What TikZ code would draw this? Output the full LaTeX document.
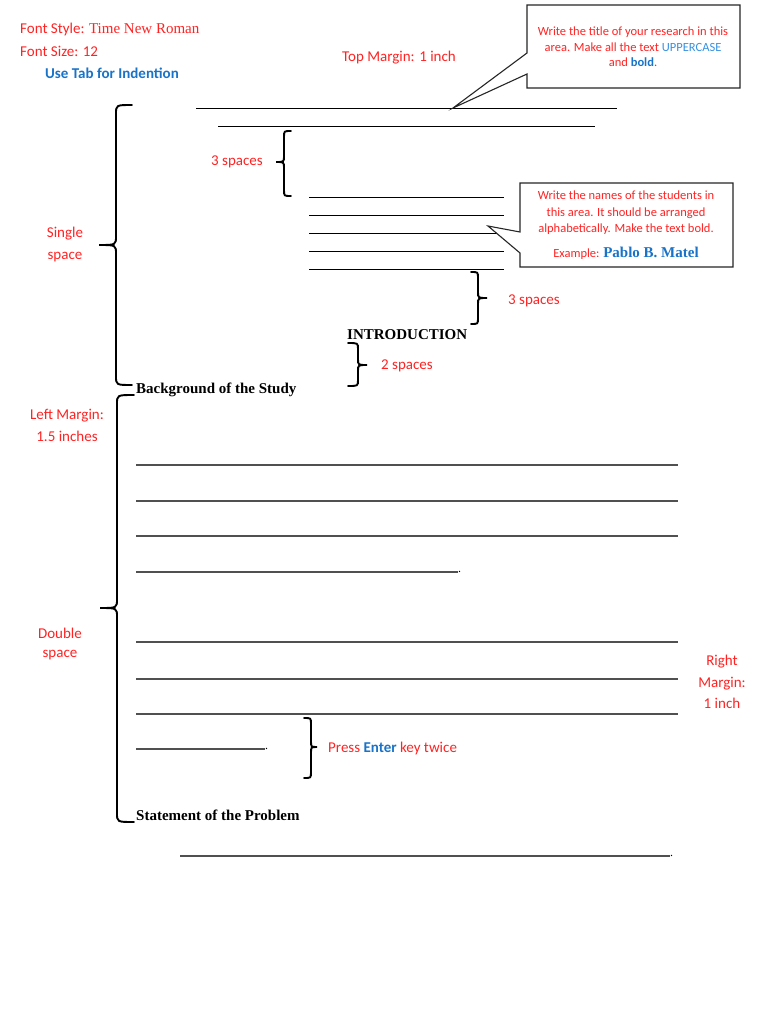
\documentclass[tikz,border=0pt]{standalone}
\usepackage{fontspec}
\setmainfont{Liberation Serif}
\newfontfamily\calfont{Carlito}
\definecolor{tred}{RGB}{255,35,35}
\definecolor{tblue}{RGB}{25,115,200}
\definecolor{lblue}{RGB}{55,145,225}
\definecolor{lgrey}{RGB}{80,80,80}
\tikzset{
  note/.style={font=\calfont\fontsize{15}{17}\selectfont, text=tred, inner sep=0pt},
  boxtext/.style={font=\calfont\fontsize{12.5}{15.5}\selectfont, text=tred, inner sep=0pt, align=center},
  head/.style={font=\bfseries\fontsize{15}{17}\selectfont, inner sep=0pt},
  callout/.style={draw=black!85, line width=1.1pt, fill=white, line join=miter},
  titlerule/.style={line width=0.9pt, black},
  bodyrule/.style={line width=1.3pt, lgrey},
  bracep/.style={line width=1.9pt, black, line cap=round}
}
% opening brace: x, top, mid, bottom, hook x, tip x, radius
\newcommand\myopenbrace[7]{%
  \draw[bracep] (#5,#2) .. controls (#1,#2) .. (#1,{#2+#7}) -- (#1,{#3-#7})
    .. controls (#1,#3) .. (#6,#3) .. controls (#1,#3) .. (#1,{#3+#7})
    -- (#1,{#4-#7}) .. controls (#1,#4) .. (#5,#4);}
\begin{document}
\begin{tikzpicture}[x=1pt,y=-1pt]
\useasboundingbox (0,0) rectangle (768,1024);
\fill[white] (0,0) rectangle (768,1024);

% top-left notes
\node[note, anchor=west] (fs) at (20,30) {Font Style: {\rmfamily Time New Roman}};
\node[note, anchor=west] (fz) at (20,51) {Font Size: 12};
\node[note, anchor=west, text=tblue, font=\calfont\bfseries\fontsize{15}{17}\selectfont] (tab) at (45,73) {Use Tab for Indention};
\node[note] (tm) at (399,58) {Top Margin: 1 inch};

% title lines
\coordinate (t1a) at (196,108); \coordinate (t1b) at (617,108);
\coordinate (t2a) at (218,126); \coordinate (t2b) at (595,126);
\draw[titlerule] (t1a) -- (t1b);
\draw[titlerule] (t2a) -- (t2b);

% callout 1
\coordinate (p1) at (453,108);
\draw[callout] (527,5) -- (740,5) -- (740,88) -- (527,88) -- (527,74) -- (p1) -- (527,53) -- cycle;
\node[boxtext] (c1) at (633,47) {Write the title of your research in this\\
area. Make all the text {\color{lblue}UPPERCASE}\\
and {\color{tblue}\bfseries bold}.};

% 3 spaces brace (small, left)
\myopenbrace{284}{131}{162}{196}{291}{276}{6}
\node[note, anchor=east] (s3a) at (263,162) {3 spaces};

% student name lines
\foreach \yy/\nm in {197/n1,215/n2,233/n3,251/n4,269/n5}{
  \draw[titlerule] (309,\yy) coordinate (\nm a) -- (504,\yy) coordinate (\nm b);
}

% callout 2
\coordinate (p2) at (488,226);
\draw[callout] (520,183) -- (733,183) -- (733,267) -- (520,267) -- (520,253) -- (p2) -- (520,232) -- cycle;
\node[boxtext, font=\calfont\fontsize{12.5}{16.5}\selectfont] (c2) at (626,213) {Write the names of the students in\\
this area. It should be arranged\\
alphabetically. Make the text bold.};
\node[boxtext, anchor=base] (c2e) at (626,258) {Example: {\rmfamily\bfseries\color{tblue}\fontsize{15}{17}\selectfont Pablo B. Matel}};

% 3 spaces brace (right side)
\draw[bracep] (471,272) .. controls (478,272) .. (478,278) -- (478,292) .. controls (478,298) .. (487,298)
  .. controls (478,298) .. (478,304) -- (478,318) .. controls (478,324) .. (471,324);
\node[note, anchor=west] (s3b) at (508,301) {3 spaces};

\node[head, anchor=base west] (intro) at (347,339) {INTRODUCTION};

% 2 spaces brace
\draw[bracep] (348,343) .. controls (358,343) .. (358,349) -- (358,359) .. controls (358,365) .. (367,365)
  .. controls (358,365) .. (358,371) -- (358,380) .. controls (358,386) .. (348,386);
\node[note, anchor=west] (s2) at (381,366) {2 spaces};

% big brace single space
\myopenbrace{116}{105}{245}{385}{132}{99}{9}
\node[note, align=center, font=\calfont\fontsize{15}{22}\selectfont] (ss) at (65,245) {Single\\space};

\node[head, anchor=base west] (bg) at (136,393) {Background of the Study};

% big brace double space
\myopenbrace{117}{395}{608}{822}{134}{100}{9}
\node[note, align=center, font=\calfont\fontsize{15}{22}\selectfont] (lm) at (67,425) {Left Margin:\\1.5 inches};
\node[note, align=center, font=\calfont\fontsize{15}{19.5}\selectfont] (ds) at (60,644) {Double\\space};

% body lines paragraph 1
\foreach \yy in {465,501,536}{ \draw[bodyrule] (136,\yy) -- (678,\yy); }
\draw[bodyrule] (136,572) -- (458,572);
\node[inner sep=0pt, anchor=base west, font=\fontsize{12}{14}\selectfont] (dot1) at (458,572) {.};

% body lines paragraph 2
\foreach \yy in {642,679,714}{ \draw[bodyrule] (136,\yy) -- (678,\yy); }
\draw[bodyrule] (136,749) -- (265,749);
\node[inner sep=0pt, anchor=base west, font=\fontsize{12}{14}\selectfont] (dot2) at (265,749) {.};

% press enter brace
\draw[bracep] (304,718) .. controls (311,718) .. (311,724) -- (311,741) .. controls (311,747) .. (317,747)
  .. controls (311,747) .. (311,753) -- (311,772) .. controls (311,778) .. (304,778);
\node[note, anchor=west] (pe) at (328,748) {Press {\color{tblue}\bfseries Enter} key twice};

\node[note, align=center, font=\calfont\fontsize{15}{21.5}\selectfont] (rm) at (722,682) {Right\\Margin:\\1 inch};

\node[head, anchor=base west] (sp) at (136,820) {Statement of the Problem};

\draw[bodyrule] (180,856) -- (670,856);
\node[inner sep=0pt, anchor=base west, font=\fontsize{12}{14}\selectfont] (dot3) at (670,856) {.};
\end{tikzpicture}
\end{document}
